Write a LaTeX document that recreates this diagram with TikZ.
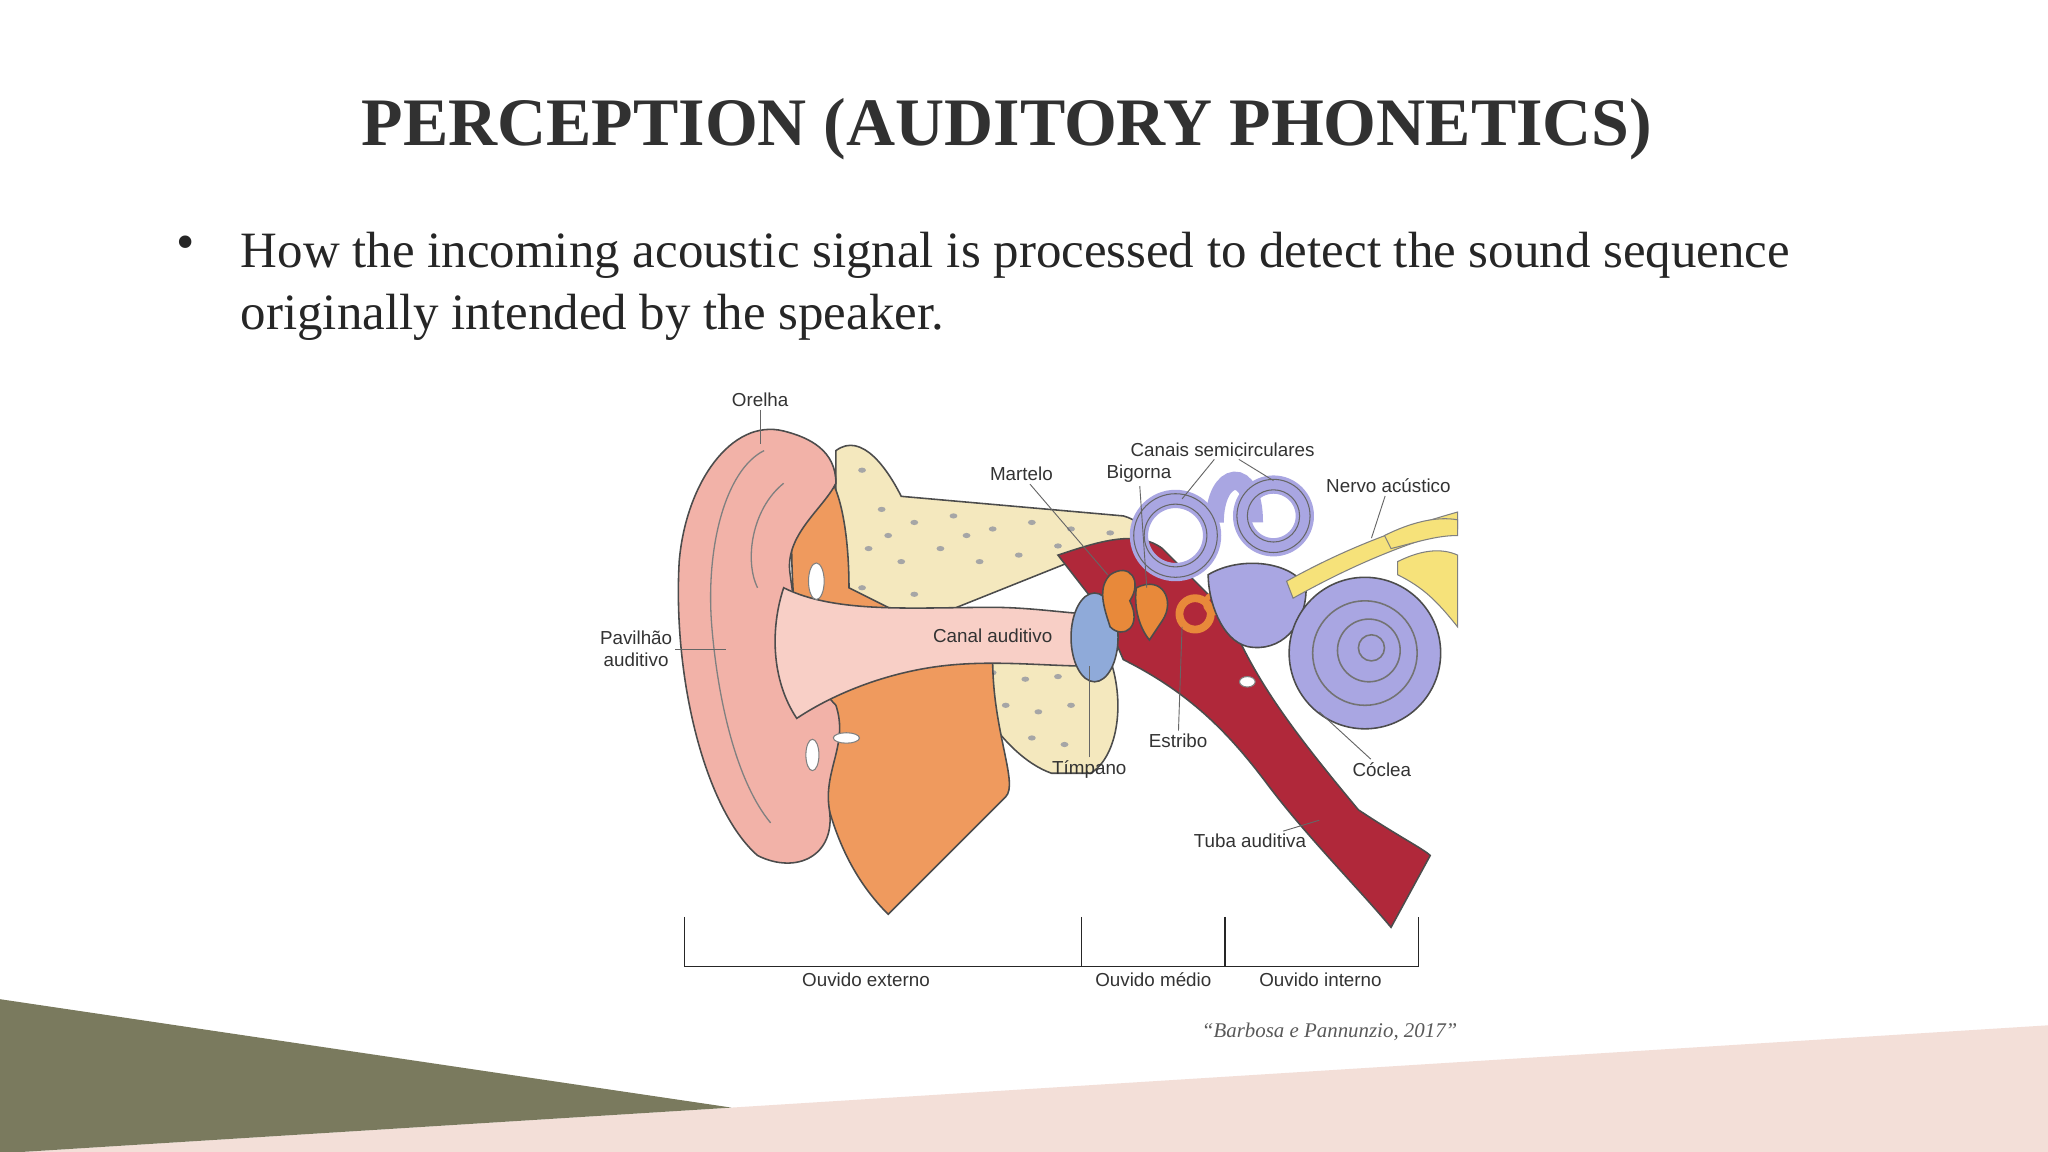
\documentclass[tikz,border=0pt]{standalone}
\usepackage{fontspec}
\setmainfont{Liberation Serif}
\newfontfamily\lsans{Liberation Sans}
\begin{document}
\begin{tikzpicture}[x=0.5pt,y=-0.5pt,
  lbl/.style={font=\lsans\fontsize{7.2}{8.5}\selectfont,text=black!80,inner sep=1pt,align=center},
  lead/.style={draw=black!60,line width=0.35pt},
  outl/.style={draw=black!70,line width=0.6pt},
  brk/.style={draw=black!85,line width=0.7pt}]
\definecolor{olive}{HTML}{7A7A5E}
\definecolor{pinkbg}{HTML}{F3DFD8}
\definecolor{skin}{HTML}{F2B2A8}
\definecolor{skinl}{HTML}{F8CFC6}
\definecolor{tiss}{HTML}{EF9A5E}
\definecolor{bone}{HTML}{F4E8BE}
\definecolor{blood}{HTML}{B0283A}
\definecolor{purp}{HTML}{A9A6E2}
\definecolor{yel}{HTML}{F6E27A}
\definecolor{drum}{HTML}{8FAAD9}
\definecolor{oss}{HTML}{E8893A}
\definecolor{ink}{HTML}{262626}
\useasboundingbox (0,0) rectangle (1568,882);
\fill[white] (0,0) rectangle (1568,882);
% bottom decoration
\fill[pinkbg] (0,883) -- (1568,785) -- (1568,882) -- cycle;
\fill[olive] (0,765) -- (560,848) -- (0,883) -- cycle;
% title and text
\node[text=ink!95] (title) at (771,99) {\fontsize{26}{30}\selectfont\bfseries PERCEPTION (AUDITORY PHONETICS)};
\node[text=ink] (bullet) at (142,190) {\fontsize{20}{24}\selectfont\textbullet};
\node[anchor=north west,align=left,inner sep=0pt,text=ink,font=\fontsize{19.5}{24}\selectfont] (body) at (184,177)
 {How the incoming acoustic signal is processed to detect the sound sequence\\
  originally intended by the speaker.};
% --- ear drawing ---
% bone upper
\fill[bone,outl] (640,345) .. controls (660,330) and (680,360) .. (690,380) -- (860,395) .. controls (880,400) and (880,420) .. (860,425) -- (820,430) -- (720,470) -- (640,470) -- cycle;
\foreach \p in {(660,360),(675,390),(700,400),(730,395),(760,405),(790,400),(820,405),(850,408),(665,420),(690,430),(720,420),(750,430),(780,425),(660,450),(700,455),(810,418),(740,410),(680,410)}
  \fill[black!35] \p ellipse (3 and 2);
% bone lower
\fill[bone,outl] (745,505) -- (850,505) .. controls (862,540) and (855,580) .. (835,592) -- (805,592) .. controls (785,585) and (765,565) .. (750,540) -- cycle;
\foreach \p in {(760,515),(785,520),(810,518),(770,540),(795,545),(820,540),(790,565),(815,570)}
  \fill[black!35] \p ellipse (3 and 2);
% orange tissue
\fill[tiss,outl] (610,360) .. controls (640,340) and (650,400) .. (650,450) -- (760,505) .. controls (760,560) and (780,600) .. (770,610) .. controls (740,640) and (720,660) .. (680,700) .. controls (660,680) and (640,650) .. (630,600) .. controls (610,520) and (600,420) .. cycle;
% pinna
\fill[skin,outl] (600,330) .. controls (560,320) and (525,370) .. (520,430)
  .. controls (515,520) and (540,620) .. (580,655) .. controls (610,670) and (640,655) .. (635,620)
  .. controls (630,590) and (650,570) .. (640,540) .. controls (620,520) and (610,480) .. (605,440)
  .. controls (600,410) and (630,390) .. (640,370) .. controls (640,345) and (620,335) .. cycle;
\draw[black!50,line width=0.5pt] (585,345) .. controls (555,360) and (540,420) .. (545,480) .. controls (550,540) and (565,600) .. (590,630);
\draw[black!50,line width=0.5pt] (600,370) .. controls (575,390) and (570,430) .. (580,450);
% canal
\fill[skinl,outl] (600,450) .. controls (640,470) and (700,465) .. (760,465) .. controls (790,465) and (820,470) .. (835,470)
  -- (835,510) .. controls (800,510) and (760,505) .. (720,510) .. controls (680,515) and (640,530) .. (610,550) .. controls (590,520) and (590,480) .. cycle;
% ear lobe folds
\fill[white,draw=black!50] (625,445) ellipse (6 and 14);
\fill[white,draw=black!50] (622,578) ellipse (5 and 12);
\fill[white,draw=black!50] (648,565) ellipse (10 and 4);
% middle ear (red)
\fill[blood,outl] (810,425) .. controls (840,415) and (870,405) .. (890,420) -- (940,470)
  .. controls (960,520) and (990,560) .. (1040,620) .. controls (1070,640) and (1090,650) .. (1095,655)
  -- (1065,710) .. controls (1040,680) and (1000,640) .. (970,600) .. controls (940,560) and (910,530) .. (860,505)
  -- (845,470) -- cycle;
% eardrum
\fill[drum,outl] (838,488) ellipse (18 and 34);
% ossicles
\fill[oss,outl] (850,440) .. controls (865,430) and (875,445) .. (865,460) .. controls (875,480) and (860,490) .. (850,480) .. controls (845,465) and (840,450) .. cycle;
\fill[oss,outl] (870,450) .. controls (890,440) and (900,460) .. (890,475) -- (880,490) .. controls (872,480) and (868,465) .. cycle;
\draw[oss,line width=3pt] (915,470) circle (12);
\draw[oss,line width=2pt] (930,462) circle (7);
% semicircular canals
\draw[purp,line width=7pt] (900,410) circle (28);
\draw[purp,line width=7pt] (975,395) circle (24);
\draw[purp,line width=7pt] (930,400) .. controls (930,360) and (960,355) .. (960,400);
\draw[black!60,line width=0.4pt] (900,410) circle (32) (900,410) circle (24) (975,395) circle (28) (975,395) circle (20);
\fill[purp,outl] (925,440) .. controls (950,425) and (990,430) .. (1000,450) .. controls (1000,480) and (980,500) .. (955,495) .. controls (935,490) and (925,460) .. cycle;
% cochlea
\fill[purp,outl] (1045,500) circle (58);
\draw[black!55,line width=0.6pt] (1045,500) circle (40) (1048,498) circle (24) (1050,496) circle (10);
\fill[white,draw=black!50] (955,522) ellipse (6 and 4);
% nerve
\fill[yel,draw=black!50] (985,445) .. controls (1030,420) and (1070,405) .. (1116,392) -- (1116,405) .. controls (1080,415) and (1040,430) .. (990,458) -- cycle;
\fill[yel,draw=black!50] (1070,430) .. controls (1090,420) and (1105,420) .. (1116,425) -- (1116,480) .. controls (1100,460) and (1090,450) .. (1070,440) -- cycle;
\fill[yel,draw=black!50] (1060,410) .. controls (1080,400) and (1100,395) .. (1116,398) -- (1116,410) .. controls (1100,410) and (1085,415) .. (1065,420) -- cycle;
% labels
\node[lbl] (orelha) at (582,306) {Orelha};
\coordinate (orelhaE) at (582,340);
\draw[lead] (orelha) -- (orelhaE);
\node[lbl] (pav) at (487,497) {Pavilhão\\auditivo};
\coordinate (pavE) at (556,497);
\draw[lead] (pav) -- (pavE);
\node[lbl] (canal) at (760,487) {Canal auditivo};
\node[lbl] (mart) at (782,363) {Martelo};
\coordinate (martE) at (848,440);
\draw[lead] (mart) -- (martE);
\node[lbl] (big) at (872,363) {Bigorna};
\coordinate (bigE) at (878,450);
\draw[lead] (big) -- (bigE);
\node[lbl] (canais) at (936,344) {Canais semicirculares};
\coordinate (canA) at (905,382);
\coordinate (canB) at (975,368);
\draw[lead] (canais) -- (canA) (canais) -- (canB);
\node[lbl] (nervo) at (1063,372) {Nervo acústico};
\coordinate (nervoE) at (1050,412);
\draw[lead] (nervo) -- (nervoE);
\node[lbl] (timp) at (834,589) {Tímpano};
\coordinate (timpE) at (834,510);
\draw[lead] (timp) -- (timpE);
\node[lbl] (estr) at (902,567) {Estribo};
\coordinate (estrE) at (905,480);
\draw[lead] (estr) -- (estrE);
\node[lbl] (coc) at (1058,589) {Cóclea};
\coordinate (cocE) at (1010,545);
\draw[lead] (coc) -- (cocE);
\node[lbl] (tuba) at (957,644) {Tuba auditiva};
\coordinate (tubaE) at (1010,628);
\draw[lead] (tuba) -- (tubaE);
% brackets
\coordinate (b1) at (524,740); \coordinate (b2) at (828,740);
\coordinate (b3) at (938,740); \coordinate (b4) at (1086,740);
\coordinate (t1) at (524,702); \coordinate (t2) at (828,702);
\coordinate (t3) at (938,702); \coordinate (t4) at (1086,702);
\draw[brk] (t1) -- (b1) -- (b4) -- (t4);
\draw[brk] (t2) -- (b2) (t3) -- (b3);
\node[lbl] (ext) at (663,750) {Ouvido externo};
\node[lbl] (med) at (883,750) {Ouvido médio};
\node[lbl] (int) at (1011,750) {Ouvido interno};
\node[font=\itshape\fontsize{8}{9}\selectfont,text=black!65] (cit) at (1018,790) {“Barbosa e Pannunzio, 2017”};
\end{tikzpicture}
\end{document}
